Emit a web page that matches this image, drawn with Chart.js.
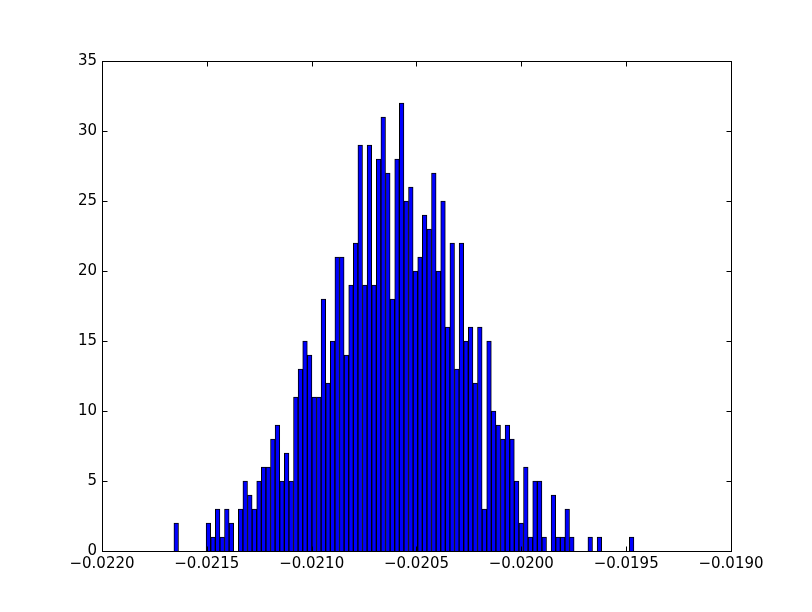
<!DOCTYPE html>
<html>
<head>
<meta charset="utf-8">
<script src="https://cdn.jsdelivr.net/npm/chart.js@4/dist/chart.umd.min.js"></script>
<style>
  body { margin: 0; background: #fff; }
  canvas { display: block; }
</style>
</head>
<body>
<canvas id="myChart" width="812" height="612"></canvas>
<script>
// histogram, 100 bins, first bin edge and width
var binStart = -0.021657
var binWidth = 0.00002194
var counts = [
  2, 0, 0, 0, 0, 0, 0, 2, 1, 3,
  1, 3, 2, 0, 3, 5, 4, 3, 5, 6,
  6, 8, 9, 5, 7, 5, 11, 13, 15, 14,
  11, 11, 18, 12, 15, 21, 21, 14, 19, 22,
  29, 19, 29, 19, 28, 31, 27, 18, 28, 32,
  25, 26, 20, 21, 24, 23, 27, 20, 25, 16,
  22, 13, 22, 15, 16, 12, 16, 3, 15, 10,
  9, 8, 9, 8, 5, 2, 6, 1, 5, 5,
  1, 0, 4, 1, 1, 3, 1, 0, 0, 0,
  1, 0, 1, 0, 0, 0, 0, 0, 0, 1
]
var xTicks = [-0.0220, -0.0215, -0.0210, -0.0205, -0.0200, -0.0195, -0.0190]
var yTicks = [0, 5, 10, 15, 20, 25, 30, 35]

var points = counts.map((c, i) => ({ x: binStart + (i + 0.5) * binWidth, y: c }))

// matplotlib-ish frame with ticks pointing inwards on all four sides
const frame = {
  id: 'frame',
  afterDraw(chart) {
    const ctx = chart.ctx
    const a = chart.chartArea
    const xs = chart.scales.x, ys = chart.scales.y
    const L = Math.round(a.left) + 0.5, R = Math.round(a.right) + 0.5
    const T = Math.round(a.top) + 0.5, B = Math.round(a.bottom) + 0.5
    ctx.save()
    ctx.strokeStyle = '#000'
    ctx.lineWidth = 1
    ctx.beginPath()
    xTicks.forEach(v => {
      const px = Math.round(xs.getPixelForValue(v)) + 0.5
      ctx.moveTo(px, B); ctx.lineTo(px, B - 5)
      ctx.moveTo(px, T); ctx.lineTo(px, T + 5)
    })
    yTicks.forEach(v => {
      const py = Math.round(ys.getPixelForValue(v)) + 0.5
      ctx.moveTo(L, py); ctx.lineTo(L + 5, py)
      ctx.moveTo(R, py); ctx.lineTo(R - 5, py)
    })
    ctx.stroke()
    ctx.strokeRect(L, T, R - L, B - T)
    ctx.restore()
  }
}

const fnt = { family: '"DejaVu Sans", sans-serif', size: 15 }

const config = {
  type: 'bar',
  data: {
    datasets: [{
      label: 'counts',
      data: points,
      backgroundColor: '#0000ff',
      borderColor: '#000000',
      borderWidth: 1,
      barPercentage: 1,
      categoryPercentage: 1
    }]
  },
  options: {
    responsive: false,
    animation: false,
    devicePixelRatio: 1,
    layout: { padding: { top: 61, right: 81, left: 0, bottom: 0 } },
    plugins: { legend: { display: false }, tooltip: { enabled: false } },
    scales: {
      x: {
        type: 'linear',
        offset: false,
        min: -0.022,
        max: -0.019,
        afterBuildTicks: s => { s.ticks = xTicks.map(v => ({ value: v })) },
        afterFit: s => { s.height = 61 },
        grid: { display: false, drawTicks: false, offset: false },
        border: { display: false },
        ticks: {
          color: '#000',
          font: fnt,
          padding: 4,
          maxRotation: 0,
          autoSkip: false,
          callback: v => v.toFixed(4).replace('-', '\u2212')
        }
      },
      y: {
        min: 0,
        max: 35,
        afterBuildTicks: s => { s.ticks = yTicks.map(v => ({ value: v })) },
        afterFit: s => { s.width = 102 },
        grid: { display: false, drawTicks: false },
        border: { display: false },
        ticks: { color: '#000', font: fnt, padding: 5 }
      }
    }
  },
  plugins: [frame]
}

const myChart = new Chart(document.getElementById('myChart'), config)
</script>
</body>
</html>
